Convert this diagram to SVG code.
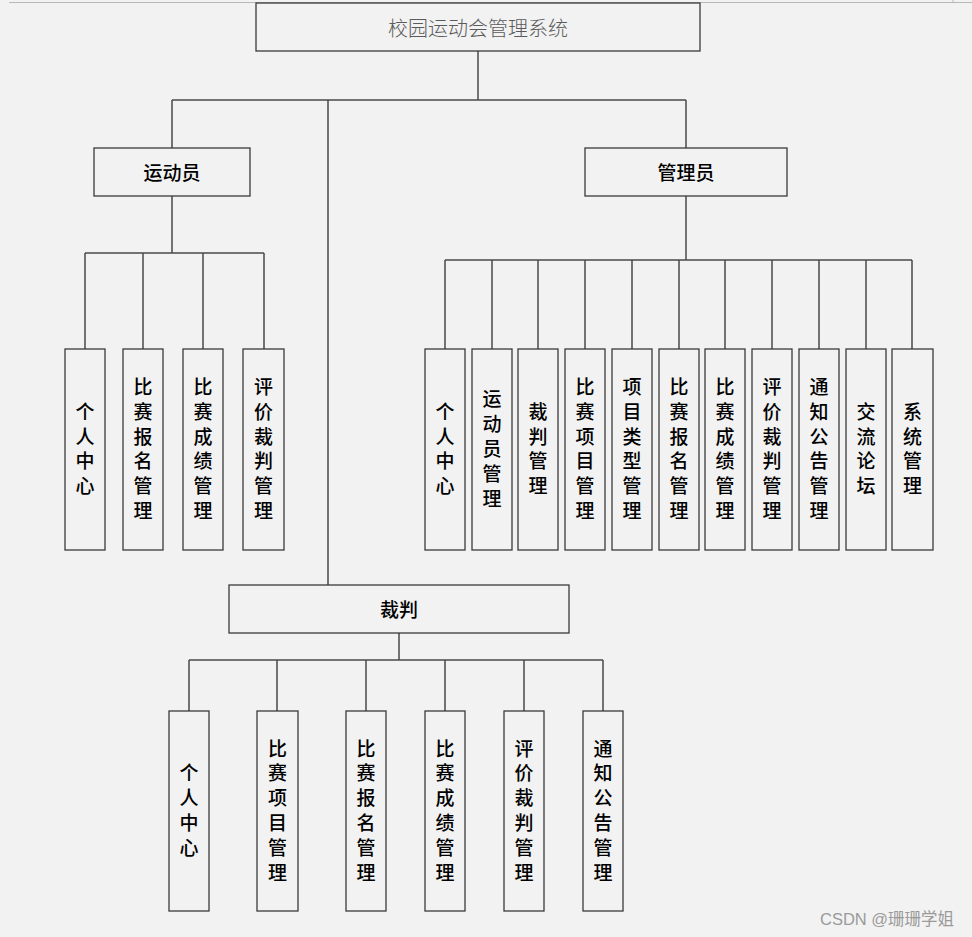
<svg xmlns="http://www.w3.org/2000/svg" width="972" height="937" viewBox="0 0 972 937">
<style>
.bg{fill:#f2f2f2}
.box{fill:#f2f2f2;stroke:#3a3a3a;stroke-width:1.3}
.ln{fill:none;stroke:#4a4a4a;stroke-width:1.5}
.t{font-family:"Noto Sans CJK SC","Noto Sans CJK JP",sans-serif;font-size:19px;font-weight:500;fill:#000;text-anchor:middle;dominant-baseline:central}
.v{transform:translateY(-2.5px)}
.title{font-family:"Noto Sans CJK SC","Noto Sans CJK JP",sans-serif;font-size:20px;fill:#5a5a5a;text-anchor:middle;dominant-baseline:central;font-weight:300}
.wm{font-family:"Liberation Sans","Noto Sans CJK SC",sans-serif;font-size:16.5px;fill:#9a9a9a}
</style>
<rect class="bg" x="0" y="0" width="972" height="937"/>
<path d="M9 2.5H972M953 0V2.5" stroke="#b8b8b8" stroke-width="1" fill="none"/>

<g id="connectors">
<path class="ln" d="M478 51V100M172 100H686M172 100V148M686 100V148M328 100V585"/>
<path class="ln" d="M172 196V253M85 253H264M85 253V349M143 253V349M203 253V349M264 253V349"/>
<path class="ln" d="M686 196V260M445 260H912M445 260V349M492 260V349M538 260V349M585 260V349M632 260V349M679 260V349M725 260V349M772 260V349M819 260V349M866 260V349M912 260V349"/>
<path class="ln" d="M399 633V660M189 660H603M189 660V711M277 660V711M366 660V711M445 660V711M524 660V711M603 660V711"/>
</g>

<g id="root"><rect class="box" x="256" y="3" width="444" height="48"/><text class="title" x="478" y="27">校园运动会管理系统</text></g>

<g id="athlete"><rect class="box" x="94" y="148" width="156" height="48"/><text class="t" x="172" y="171.5">运动员</text></g>
<g id="admin"><rect class="box" x="585" y="148" width="202" height="48"/><text class="t" x="686" y="171.5">管理员</text></g>
<g id="referee"><rect class="box" x="229" y="585" width="340" height="48"/><text class="t" x="399" y="608.5">裁判</text></g>

<g id="a1"><rect class="box" x="65" y="349" width="40" height="201"/><text class="t v"><tspan x="85" y="412.3">个</tspan><tspan x="85" y="437.1">人</tspan><tspan x="85" y="461.9">中</tspan><tspan x="85" y="486.7">心</tspan></text></g>
<g id="a2"><rect class="box" x="123" y="349" width="40" height="201"/><text class="t v"><tspan x="143" y="387.5">比</tspan><tspan x="143" y="412.3">赛</tspan><tspan x="143" y="437.1">报</tspan><tspan x="143" y="461.9">名</tspan><tspan x="143" y="486.7">管</tspan><tspan x="143" y="511.5">理</tspan></text></g>
<g id="a3"><rect class="box" x="183" y="349" width="40" height="201"/><text class="t v"><tspan x="203" y="387.5">比</tspan><tspan x="203" y="412.3">赛</tspan><tspan x="203" y="437.1">成</tspan><tspan x="203" y="461.9">绩</tspan><tspan x="203" y="486.7">管</tspan><tspan x="203" y="511.5">理</tspan></text></g>
<g id="a4"><rect class="box" x="243" y="349" width="41" height="201"/><text class="t v"><tspan x="263.5" y="387.5">评</tspan><tspan x="263.5" y="412.3">价</tspan><tspan x="263.5" y="437.1">裁</tspan><tspan x="263.5" y="461.9">判</tspan><tspan x="263.5" y="486.7">管</tspan><tspan x="263.5" y="511.5">理</tspan></text></g>

<g id="m1"><rect class="box" x="425" y="349" width="40" height="201"/><text class="t v"><tspan x="445" y="412.3">个</tspan><tspan x="445" y="437.1">人</tspan><tspan x="445" y="461.9">中</tspan><tspan x="445" y="486.7">心</tspan></text></g>
<g id="m2"><rect class="box" x="472" y="349" width="40" height="201"/><text class="t v"><tspan x="492" y="399.9">运</tspan><tspan x="492" y="424.7">动</tspan><tspan x="492" y="449.5">员</tspan><tspan x="492" y="474.3">管</tspan><tspan x="492" y="499.1">理</tspan></text></g>
<g id="m3"><rect class="box" x="518" y="349" width="40" height="201"/><text class="t v"><tspan x="538" y="412.3">裁</tspan><tspan x="538" y="437.1">判</tspan><tspan x="538" y="461.9">管</tspan><tspan x="538" y="486.7">理</tspan></text></g>
<g id="m4"><rect class="box" x="565" y="349" width="40" height="201"/><text class="t v"><tspan x="585" y="387.5">比</tspan><tspan x="585" y="412.3">赛</tspan><tspan x="585" y="437.1">项</tspan><tspan x="585" y="461.9">目</tspan><tspan x="585" y="486.7">管</tspan><tspan x="585" y="511.5">理</tspan></text></g>
<g id="m5"><rect class="box" x="612" y="349" width="40" height="201"/><text class="t v"><tspan x="632" y="387.5">项</tspan><tspan x="632" y="412.3">目</tspan><tspan x="632" y="437.1">类</tspan><tspan x="632" y="461.9">型</tspan><tspan x="632" y="486.7">管</tspan><tspan x="632" y="511.5">理</tspan></text></g>
<g id="m6"><rect class="box" x="659" y="349" width="40" height="201"/><text class="t v"><tspan x="679" y="387.5">比</tspan><tspan x="679" y="412.3">赛</tspan><tspan x="679" y="437.1">报</tspan><tspan x="679" y="461.9">名</tspan><tspan x="679" y="486.7">管</tspan><tspan x="679" y="511.5">理</tspan></text></g>
<g id="m7"><rect class="box" x="705" y="349" width="40" height="201"/><text class="t v"><tspan x="725" y="387.5">比</tspan><tspan x="725" y="412.3">赛</tspan><tspan x="725" y="437.1">成</tspan><tspan x="725" y="461.9">绩</tspan><tspan x="725" y="486.7">管</tspan><tspan x="725" y="511.5">理</tspan></text></g>
<g id="m8"><rect class="box" x="752" y="349" width="40" height="201"/><text class="t v"><tspan x="772" y="387.5">评</tspan><tspan x="772" y="412.3">价</tspan><tspan x="772" y="437.1">裁</tspan><tspan x="772" y="461.9">判</tspan><tspan x="772" y="486.7">管</tspan><tspan x="772" y="511.5">理</tspan></text></g>
<g id="m9"><rect class="box" x="799" y="349" width="40" height="201"/><text class="t v"><tspan x="819" y="387.5">通</tspan><tspan x="819" y="412.3">知</tspan><tspan x="819" y="437.1">公</tspan><tspan x="819" y="461.9">告</tspan><tspan x="819" y="486.7">管</tspan><tspan x="819" y="511.5">理</tspan></text></g>
<g id="m10"><rect class="box" x="846" y="349" width="40" height="201"/><text class="t v"><tspan x="866" y="412.3">交</tspan><tspan x="866" y="437.1">流</tspan><tspan x="866" y="461.9">论</tspan><tspan x="866" y="486.7">坛</tspan></text></g>
<g id="m11"><rect class="box" x="892" y="349" width="41" height="201"/><text class="t v"><tspan x="912.5" y="412.3">系</tspan><tspan x="912.5" y="437.1">统</tspan><tspan x="912.5" y="461.9">管</tspan><tspan x="912.5" y="486.7">理</tspan></text></g>

<g id="r1"><rect class="box" x="169" y="711" width="40" height="200"/><text class="t v"><tspan x="189" y="773.8">个</tspan><tspan x="189" y="798.6">人</tspan><tspan x="189" y="823.4">中</tspan><tspan x="189" y="848.2">心</tspan></text></g>
<g id="r2"><rect class="box" x="257" y="711" width="41" height="200"/><text class="t v"><tspan x="277.5" y="749">比</tspan><tspan x="277.5" y="773.8">赛</tspan><tspan x="277.5" y="798.6">项</tspan><tspan x="277.5" y="823.4">目</tspan><tspan x="277.5" y="848.2">管</tspan><tspan x="277.5" y="873">理</tspan></text></g>
<g id="r3"><rect class="box" x="346" y="711" width="40" height="200"/><text class="t v"><tspan x="366" y="749">比</tspan><tspan x="366" y="773.8">赛</tspan><tspan x="366" y="798.6">报</tspan><tspan x="366" y="823.4">名</tspan><tspan x="366" y="848.2">管</tspan><tspan x="366" y="873">理</tspan></text></g>
<g id="r4"><rect class="box" x="425" y="711" width="40" height="200"/><text class="t v"><tspan x="445" y="749">比</tspan><tspan x="445" y="773.8">赛</tspan><tspan x="445" y="798.6">成</tspan><tspan x="445" y="823.4">绩</tspan><tspan x="445" y="848.2">管</tspan><tspan x="445" y="873">理</tspan></text></g>
<g id="r5"><rect class="box" x="504" y="711" width="40" height="200"/><text class="t v"><tspan x="524" y="749">评</tspan><tspan x="524" y="773.8">价</tspan><tspan x="524" y="798.6">裁</tspan><tspan x="524" y="823.4">判</tspan><tspan x="524" y="848.2">管</tspan><tspan x="524" y="873">理</tspan></text></g>
<g id="r6"><rect class="box" x="583" y="711" width="40" height="200"/><text class="t v"><tspan x="603" y="749">通</tspan><tspan x="603" y="773.8">知</tspan><tspan x="603" y="798.6">公</tspan><tspan x="603" y="823.4">告</tspan><tspan x="603" y="848.2">管</tspan><tspan x="603" y="873">理</tspan></text></g>

<text class="wm" x="820" y="925">CSDN @珊珊学姐</text>
</svg>
